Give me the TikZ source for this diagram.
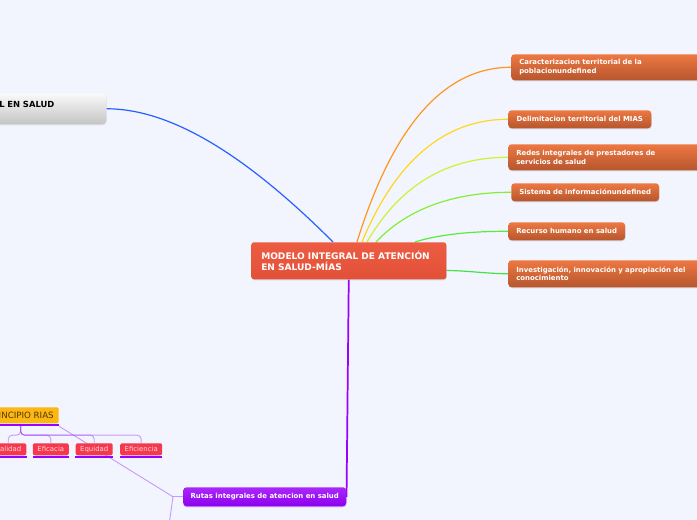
\documentclass[tikz,border=0pt]{standalone}
\usepackage{fontspec}
\setmainfont{DejaVu Sans}
\usetikzlibrary{positioning,calc,shadows,backgrounds}

\definecolor{bgblue}{RGB}{242,245,254}
\definecolor{coretop}{RGB}{236,92,66}
\definecolor{corebot}{RGB}{226,80,56}
\definecolor{topictop}{RGB}{238,120,66}
\definecolor{topicbot}{RGB}{182,86,46}
\definecolor{graytop}{RGB}{250,250,250}
\definecolor{graybot}{RGB}{196,196,196}
\definecolor{routetop}{RGB}{170,40,250}
\definecolor{routebot}{RGB}{140,0,238}
\definecolor{prgold}{RGB}{253,183,20}
\definecolor{prtext}{RGB}{80,55,0}
\definecolor{valred}{RGB}{245,56,76}
\definecolor{valtext}{RGB}{255,215,220}
\definecolor{barviolet}{RGB}{153,0,255}
\definecolor{twigviolet}{RGB}{170,80,250}
\definecolor{linkblue}{RGB}{40,95,255}
\definecolor{linkorange}{RGB}{255,150,30}
\definecolor{linkgold}{RGB}{255,215,30}
\definecolor{linklime}{RGB}{210,240,50}
\definecolor{linkgreen}{RGB}{130,240,50}
\definecolor{linkgreentwo}{RGB}{90,235,60}
\definecolor{linkgreenthree}{RGB}{70,225,70}

\begin{document}
\begin{tikzpicture}[x=0.75pt,y=-0.75pt,
    core/.style={anchor=north west,rounded corners=2pt,top color=coretop,bottom color=corebot,
                 text=white,align=left,inner xsep=7.5pt,inner ysep=0pt,
                 font=\fontsize{6.8}{8.8}\selectfont\bfseries,
                 drop shadow={opacity=0.2,shadow xshift=0.4pt,shadow yshift=-0.8pt}},
    topic/.style={anchor=north west,rounded corners=2.5pt,top color=topictop,bottom color=topicbot,
                  text=white,align=left,inner xsep=6pt,inner ysep=0pt,
                  font=\fontsize{5.2}{6.5}\selectfont\bfseries,
                  drop shadow={opacity=0.2,shadow xshift=0.4pt,shadow yshift=-0.8pt}},
    short/.style={minimum height=13.5pt},
    long/.style={minimum height=19.5pt},
    parent/.style={anchor=north west,rounded corners=3pt,top color=graytop,bottom color=graybot,
                   text=black,align=left,inner xsep=6.75pt,inner ysep=0pt,
                   font=\fontsize{6.3}{7}\selectfont\bfseries,
                   drop shadow={opacity=0.15,shadow xshift=0.4pt,shadow yshift=-0.8pt}},
    route/.style={anchor=north west,rounded corners=2.5pt,top color=routetop,bottom color=routebot,
                  text=white,inner sep=0pt,font=\fontsize{5.2}{6}\selectfont\bfseries,
                  drop shadow={fill=barviolet,opacity=0.25,shadow xshift=0pt,shadow yshift=-0.8pt}},
    principle/.style={anchor=north east,rounded corners=1.5pt,fill=prgold,text=prtext,
                      inner xsep=3.75pt,inner ysep=0pt,minimum height=12pt,
                      font=\fontsize{6.5}{7.5}\selectfont},
    value/.style={anchor=north west,rounded corners=1.5pt,fill=valred,text=valtext,
                  inner sep=0pt,minimum height=9pt,font=\fontsize{5.2}{6}\selectfont},
    link/.style={line width=0.9pt},
    trunk/.style={barviolet,line width=1.3pt},
    twig/.style={twigviolet,line width=0.7pt,opacity=0.55},
    underbar/.style={barviolet,line width=2pt}]

  \useasboundingbox (0,0) rectangle (697,520);

  \node[core, text width=131.25pt, minimum height=27.75pt] (mid) at (251,242)
       {MODELO INTEGRAL DE ATENCIÓN\\EN SALUD-MÍAS};
  \node[parent, text width=73.5pt, minimum height=23.25pt, text height=4.5pt, text depth=6pt]
       (pais) at (-10,93) {L EN SALUD};

  \node[topic, long,  text width=138pt]      (t1) at (511,54)  {Caracterizacion territorial de la\\poblacionundefined};
  \node[topic, short, minimum width=107.25pt] (t2) at (508,110) {Delimitacion territorial del MIAS};
  \node[topic, long,  text width=138pt]      (t3) at (508,144) {Redes integrales de prestadores de\\servicios de salud};
  \node[topic, short, minimum width=109.5pt]  (t4) at (511,183) {Sistema de informaciónundefined};
  \node[topic, short, minimum width=87pt]     (t5) at (508,222) {Recurso humano en salud};
  \node[topic, minimum height=20.25pt, text width=138pt] (t6) at (508,260)
       {Investigación, innovación y apropiación del\\conocimiento};

  \node[route, minimum width=122.25pt, minimum height=14.25pt] (rutas) at (183,487)
       {Rutas integrales de atencion en salud};

  \node[principle] (pr) at (59,407) {PRINCIPIO RIAS};
  \node[value, minimum width=27pt]                   (cal) at (-10,443) {Calidad};
  \node[value, minimum width=27pt, right=4.5pt of cal]    (efa) {Eficacia};
  \node[value, minimum width=27.75pt, right=4.8pt of efa] (equ) {Equidad};
  \node[value, minimum width=31.5pt, right=5.2pt of equ]  (efi) {Eficiencia};

  \foreach \n in {pr,cal,efa,equ,efi}
    \draw[underbar] ([yshift=-1pt]\n.south west) -- ([yshift=-1pt]\n.south east);

  \coordinate (down) at (169,525);

  \begin{scope}[on background layer]
    \fill[bgblue] (0,0) rectangle (697,520);

    \draw[link, linkblue] (pais.east) .. controls +(63,0) and +(-89,-89) .. ($(mid.north west)+(82,0)$);
    \draw[link, linkorange] ($(mid.north west)+(106,0)$) .. controls +(36,-116) and +(-67,0) .. (t1.west);
    \draw[link, linkgold] ($(mid.north west)+(111,0)$) .. controls +(34,-82) and +(-63,0) .. (t2.west);
    \draw[link, linklime] ($(mid.north west)+(116,0)$) .. controls +(33,-57) and +(-61,0) .. (t3.west);
    \draw[link, linkgreen] ($(mid.north west)+(125,0)$) .. controls +(31,-33) and +(-58,0) .. (t4.west);
    \draw[link, linkgreentwo] ($(mid.north west)+(164,0)$) .. controls +(22,-7) and +(-40,0) .. (t5.west);
    \draw[link, linkgreenthree] ($(mid.south east)+(0,-9)$) .. controls +(20,0) and +(-20,0) .. (t6.west);

    \draw[trunk] (mid.south) -- (rutas.east);
    \draw[twig] (rutas.west) -- ++(-10,0) coordinate (hub);
    \draw[twig] (hub) -- ([yshift=-2pt]pr.south east);
    \draw[twig] (hub) -- (down);

    % principles hang from the yellow box
    \foreach \c in {cal,efa,equ,efi}
      \draw[twig, rounded corners=3pt] ([yshift=-2pt]pr.south) -- ++(0,9) -| (\c.north);
  \end{scope}
\end{tikzpicture}
\end{document}
